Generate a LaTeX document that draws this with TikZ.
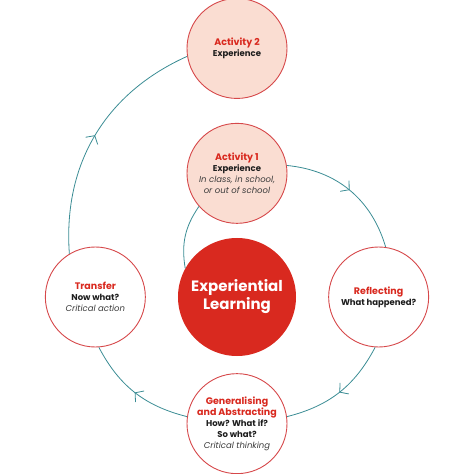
\documentclass[tikz,border=0pt]{standalone}
\usepackage{fontspec}
\setmainfont{Poppins}
\usetikzlibrary{positioning,arrows.meta,decorations.markings}
\definecolor{elred}{RGB}{217,41,31}
\definecolor{elrim}{RGB}{214,72,74}
\definecolor{elpink}{RGB}{250,221,210}
\definecolor{elteal}{RGB}{58,140,148}
\definecolor{elink}{RGB}{30,30,30}
\definecolor{elgrey}{RGB}{60,60,60}
\newcommand{\elhead}[1]{{\color{elred}\fontsize{9.5}{11}\selectfont #1}}
\newcommand{\elnote}[1]{{\color{elgrey}\mdseries\itshape #1}}

\begin{document}
\begin{tikzpicture}[x=1pt,y=1pt,
  stage/.style={circle,draw=elrim,line width=0.9pt,fill=white,minimum size=100pt,
    inner sep=0pt,align=center,text=elink,font=\fontsize{8.5}{11}\selectfont\bfseries},
  act/.style={stage,fill=elpink},
  loop/.style={draw=elteal,line width=0.8pt},
  flow/.style={loop,postaction={decorate},decoration={markings,
    mark=at position 0.5 with {\arrow{Straight Barb[length=6pt,width=14pt]}}}}]
 \useasboundingbox (-237,-177) rectangle (237,297);
 \node[circle,fill=elred,minimum size=118pt,inner sep=0pt,align=center,text=white,
   font=\fontsize{15}{18}\selectfont\bfseries] (el) {Experiential\\Learning};
 \node[stage,left=32pt of el] (tr)
  {\elhead{Transfer}\\Now what?\\\elnote{Critical action}};
 \node[stage,right=32pt of el] (refl)
  {\elhead{Reflecting}\\What happened?};
 \node[stage,below=17pt of el] (gen)
  {\elhead{Generalising}\\\elhead{and Abstracting}\\How? What if?\\So what?\\\elnote{Critical thinking}};
 \node[act,above=14pt of el] (a1)
  {\elhead{Activity 1}\\Experience\\\elnote{In class, in school,}\\\elnote{or out of school}};
 \node[act,above=24pt of a1] (a2)
  {\elhead{Activity 2}\\Experience};
 \draw[flow] (a1.9) to[bend left=34] (refl.82);
 \draw[flow] (refl.266) to[bend left=24] (gen.8);
 \draw[flow] (gen.172) to[bend left=24] (tr.274);
 \draw[flow] (tr.121) to[bend left=35] (a2.189);
 \draw[loop] (a1.221) to[bend right=22] (el.151);
\end{tikzpicture}
\end{document}
